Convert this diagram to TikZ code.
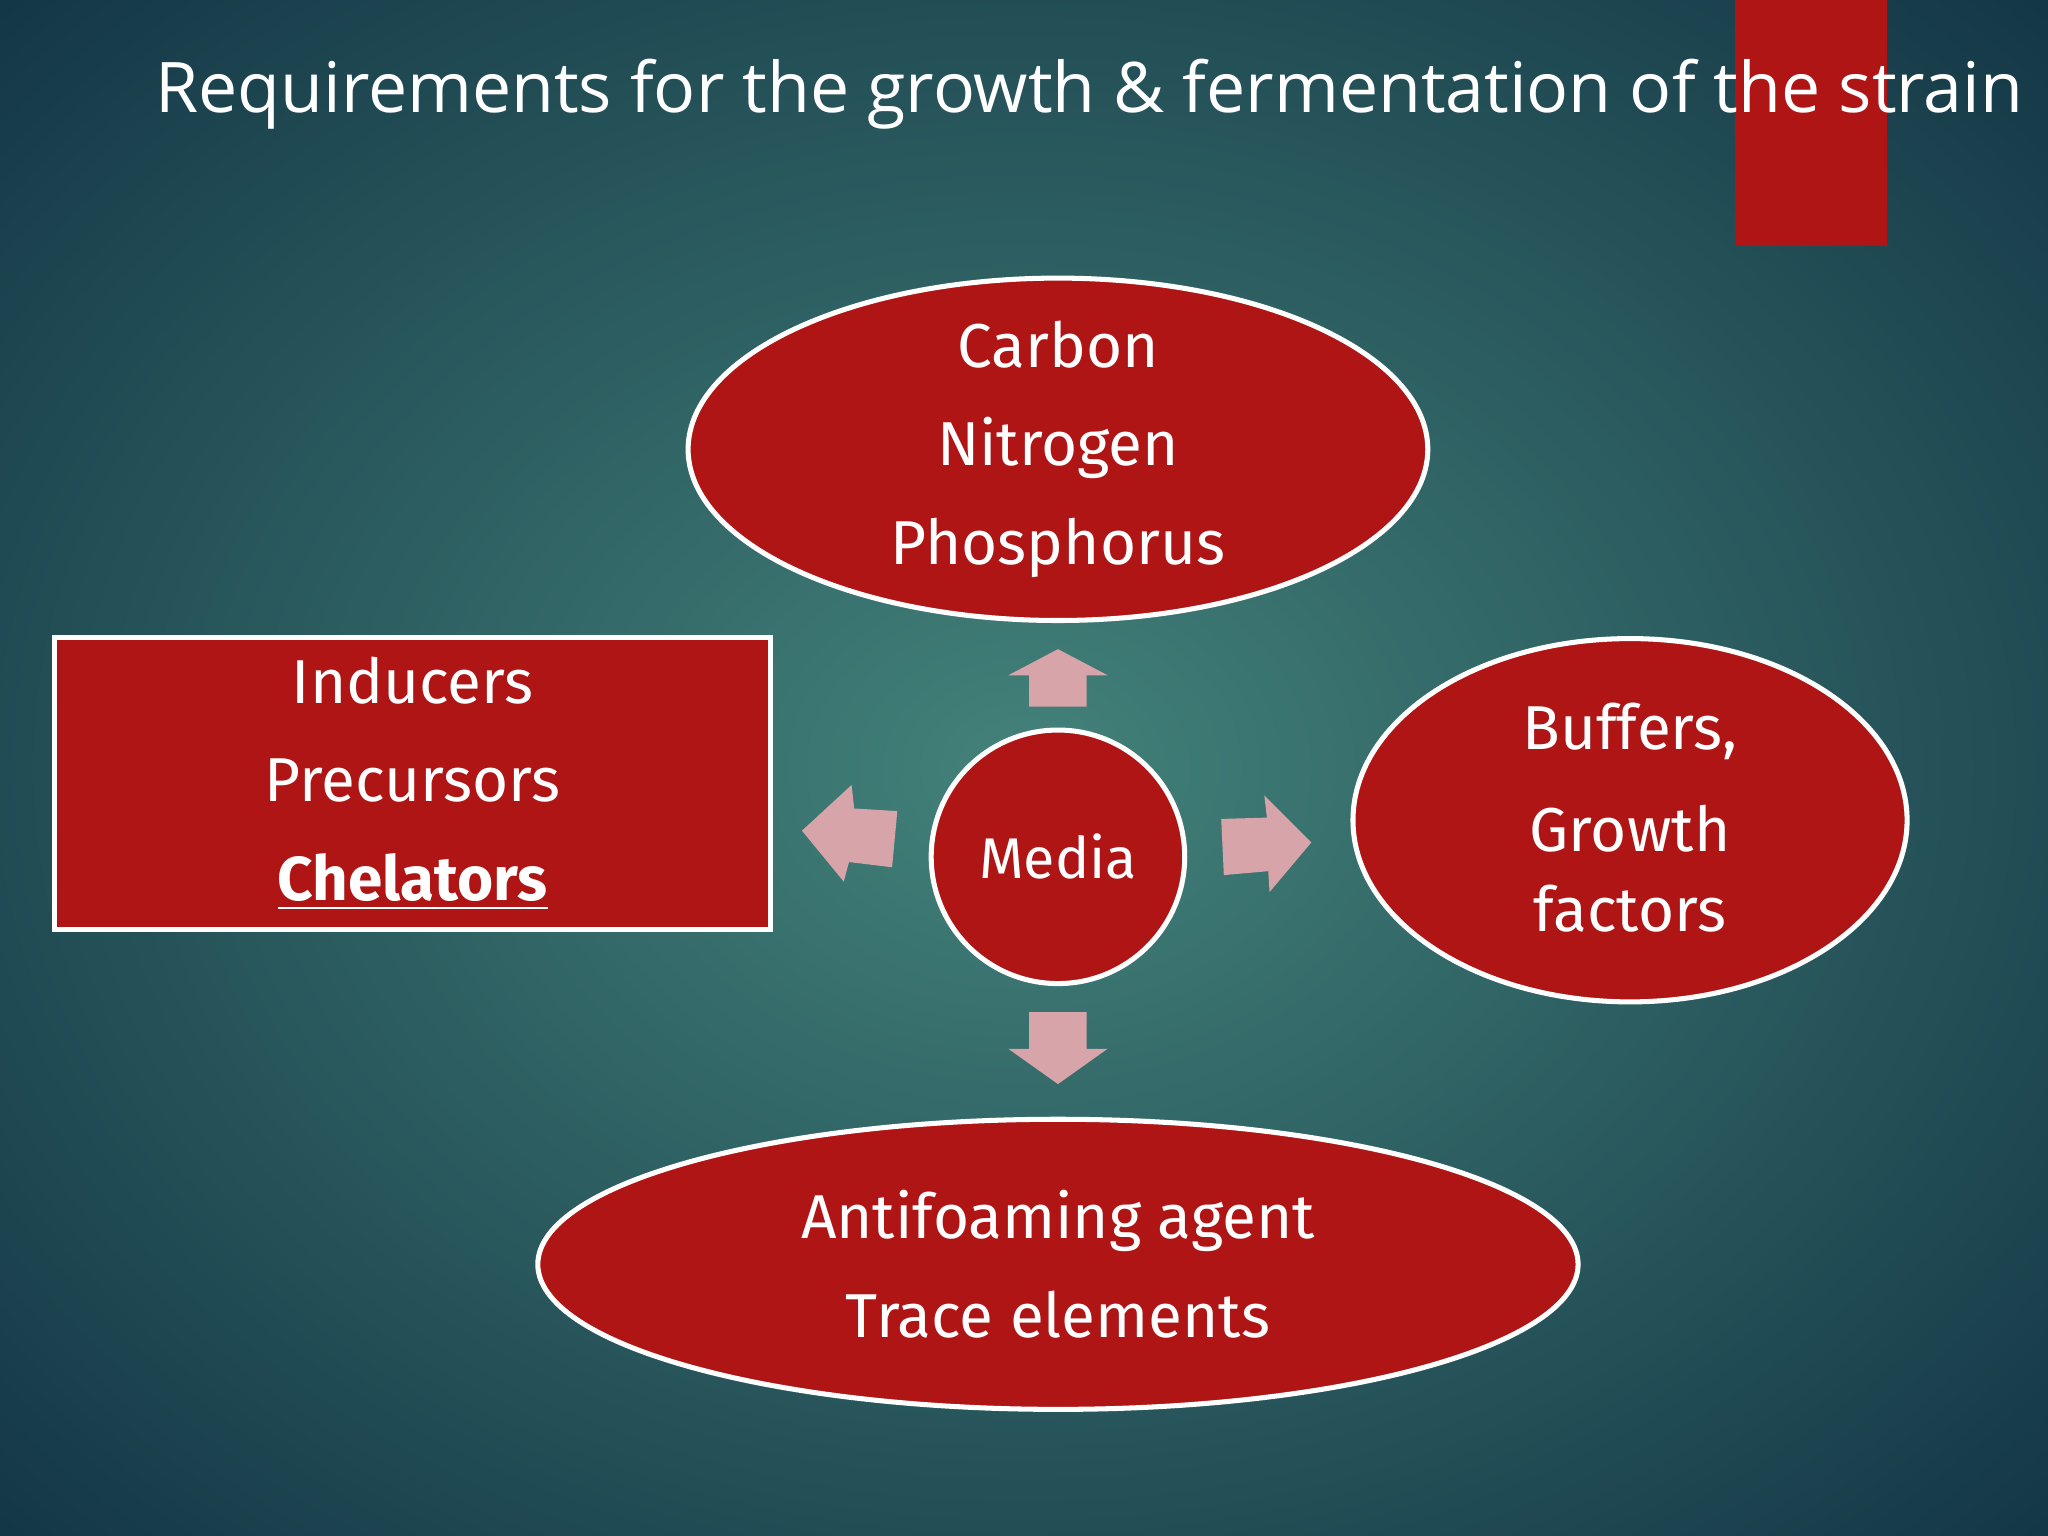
\documentclass[tikz,border=0pt]{standalone}
\usepackage{fontspec}
\setmainfont{Open Sans}
\newfontfamily\handf{Fira Sans}
\usetikzlibrary{shapes.geometric}
\definecolor{redf}{HTML}{AF1515}
\definecolor{pinkar}{HTML}{D6A4A9}
\definecolor{tealc}{HTML}{43827A}
\definecolor{tealo}{HTML}{143746}
\tikzset{
 redshape/.style={fill=redf,draw=white,line width=1.1pt,inner sep=0pt},
 lbl/.style={text=white,font=\handf\fontsize{13.5}{21.5}\selectfont,align=center},
 blockarrow/.style={fill=pinkar,draw=none}
}
\begin{document}
\begin{tikzpicture}[x=0.01cm,y=-0.01cm]
\useasboundingbox (0,0) rectangle (1568,1176);
\shade[inner color=tealc,outer color=tealo] (-300,-250) rectangle (1868,1426);
\fill[redf] (1328,0) rectangle (1445,188);
\node[text=white,font=\fontsize{15.2}{18}\selectfont] (title) at (834,72) {Requirements for the growth \& fermentation of the strain};
\node[redshape,ellipse,minimum width=5.66cm,minimum height=2.62cm] (top) at (810,344) {};
\node[lbl] (toptext) at (810,344) {Carbon\\Nitrogen\\Phosphorus};
\node[redshape,rectangle,minimum width=5.48cm,minimum height=2.23cm] (left) at (316,600) {};
\node[lbl] (lefttext) at (316,600) {Inducers\\Precursors\\\textbf{\underline{Chelators}}};
\node[redshape,circle,minimum size=1.94cm] (media) at (810,656) {};
\node[lbl,font=\handf\fontsize{12.5}{16}\selectfont] (mediatext) at (810,656) {Media};
\node[redshape,ellipse,minimum width=4.24cm,minimum height=2.78cm] (right) at (1248,628) {};
\node[lbl] (righttext) at (1248,626) {Buffers,\\[0.05em]Growth\\[-0.3em]factors};
\node[redshape,ellipse,minimum width=7.96cm,minimum height=2.22cm] (bottom) at (810,968) {};
\node[lbl] (bottomtext) at (810,968) {Antifoaming agent\\Trace elements};
\fill[blockarrow] (788,541) -- (788,517) -- (772,517) -- (810,497) -- (848,517) -- (832,517) -- (832,541) -- cycle;
\fill[blockarrow] (788,775) -- (788,803) -- (772,803) -- (810,830) -- (848,803) -- (832,803) -- (832,775) -- cycle;
\fill[blockarrow] (614,636) -- (652,601) -- (654,619) -- (687,621) -- (683,664) -- (650,660) -- (646,675) -- cycle;
\fill[blockarrow] (1004,645) -- (968,609) -- (970,626) -- (935,627) -- (937,670) -- (971,667) -- (972,683) -- cycle;
\end{tikzpicture}
\end{document}
